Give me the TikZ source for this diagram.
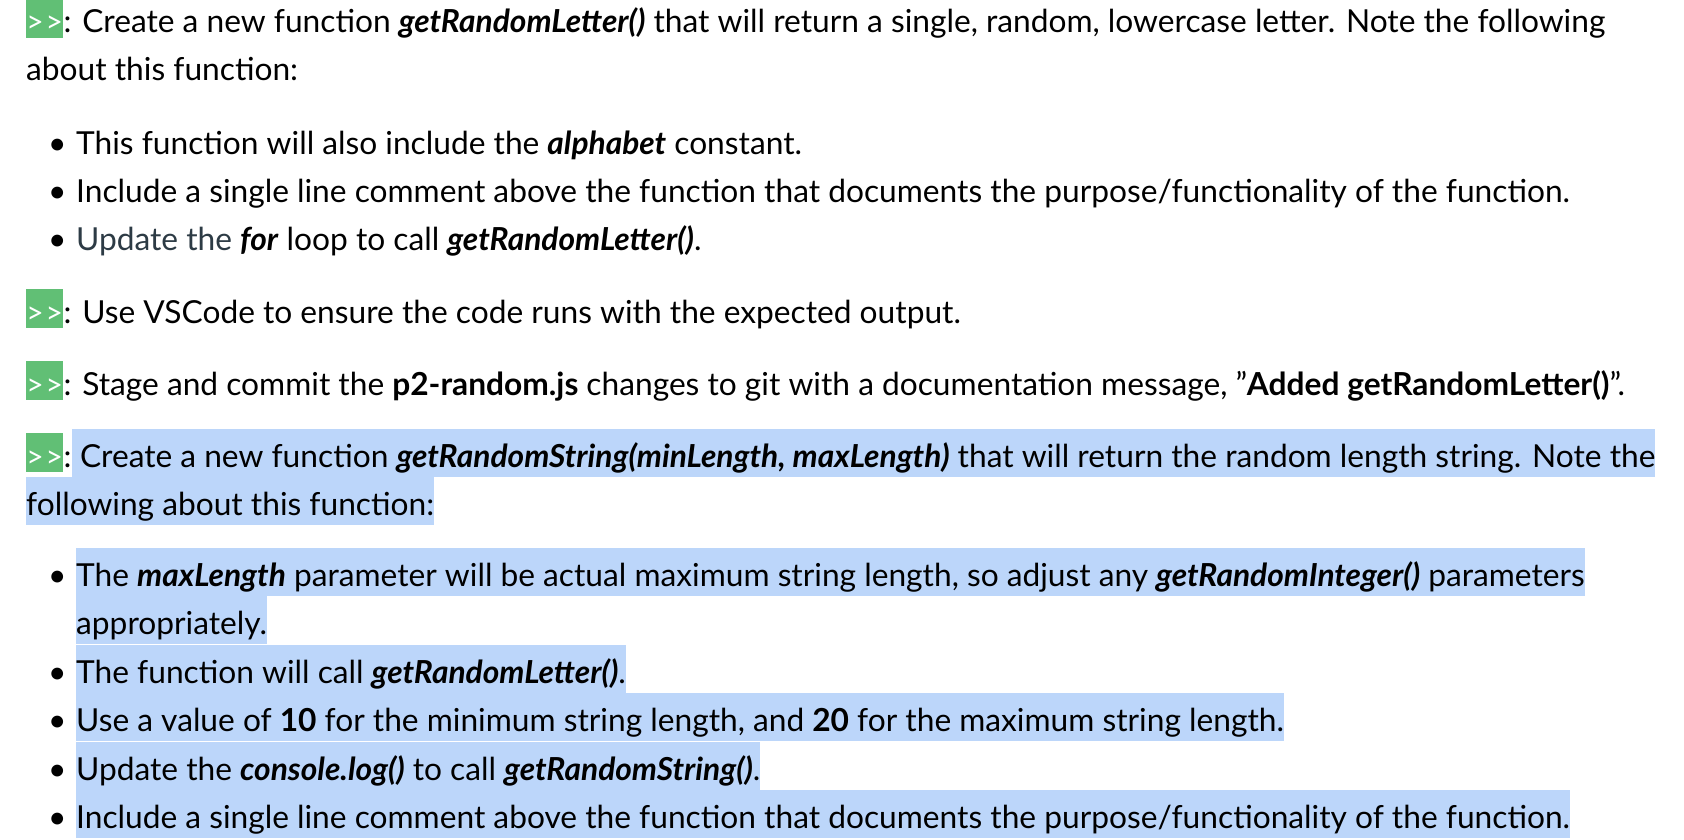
\documentclass[tikz,border=0pt]{standalone}
\usepackage{fontspec}
\setmainfont{Lato}
\definecolor{hl}{HTML}{BCD6FA}
\definecolor{gr}{HTML}{61BF75}
\definecolor{gray1}{HTML}{2D3B45}
\begin{document}
\begin{tikzpicture}[x=1pt,y=-1pt,
  txt/.style={anchor=base west,inner sep=0pt,text height=38pt,text depth=10pt,font=\fontsize{31.7}{48}\selectfont},
  hlt/.style={txt,fill=hl,inner xsep=0pt},
  grn/.style={anchor=base west,inner sep=0pt,fill=gr,text=white,minimum width=37pt,text height=34pt,text depth=5pt,font=\fontsize{30}{34}\selectfont},
  bul/.style={anchor=base west,inner sep=0pt,font=\fontsize{31.7}{48}\selectfont}]
\useasboundingbox[fill=white] (0,0) rectangle (1684,840);
\newcommand\bi[1]{\textbf{\textit{#1}}}
\newcommand\qq{\symbol{34}}
% paragraph 1
\node[grn] (g1) at (26,33) {>\kern2pt>};
\node[txt] (l1) at (g1.base east) {: Create a new function \bi{getRandomLetter()} that will return a single, random, lowercase letter. Note the following};
\node[txt] (l2) at (26,81) {about this function:};
\node[bul] (b1) at (48,154) {•};
\node[txt] (t1) at (76,154) {This function will also include the \bi{alphabet} constant.};
\node[bul] (b2) at (48,202) {•};
\node[txt] (t2) at (76,202) {Include a single line comment above the function that documents the purpose/functionality of the function.};
\node[bul] (b3) at (48,250) {•};
\node[txt] (t3) at (76,250) {\textcolor{gray1}{Update the} \bi{for} loop to call \bi{getRandomLetter()}.};
% paragraph 2
\node[grn] (g2) at (26,323) {>\kern2pt>};
\node[txt] (l3) at (g2.base east) {: Use VSCode to ensure the code runs with the expected output.};
% paragraph 3
\node[grn] (g3) at (26,395) {>\kern2pt>};
\node[txt] (l4) at (g3.base east) {: Stage and commit the \textbf{p2-random.js} changes to git with a documentation message, \qq\textbf{Added getRandomLetter()}\qq.};
% paragraph 4
\node[grn] (g4) at (26,467) {>\kern2pt>};
\node[txt] (c4) at (g4.base east) {:};
\node[hlt] (l5) at (c4.base east) {\ Create a new function \bi{getRandomString(minLength, maxLength)} that will return the random length string. Note the\ };
\node[hlt] (l6) at (26,515) {following about this function:\ };
\node[bul] (b4) at (48,586) {•};
\node[hlt] (t4) at (76,586) {The \bi{maxLength} parameter will be actual maximum string length, so adjust any \bi{getRandomInteger()} parameters\ };
\node[hlt] (t4b) at (76,634) {appropriately.\ };
\node[bul] (b5) at (48,683) {•};
\node[hlt] (t5) at (76,683) {The function will call \bi{getRandomLetter()}.\ };
\node[bul] (b6) at (48,731) {•};
\node[hlt] (t6) at (76,731) {Use a value of \textbf{10} for the minimum string length, and \textbf{20} for the maximum string length.\ };
\node[bul] (b7) at (48,780) {•};
\node[hlt] (t7) at (76,780) {Update the \bi{console.log()} to call \bi{getRandomString()}.\ };
\node[bul] (b8) at (48,828) {•};
\node[hlt] (t8) at (76,828) {Include a single line comment above the function that documents the purpose/functionality of the function.};
\end{tikzpicture}
\end{document}
